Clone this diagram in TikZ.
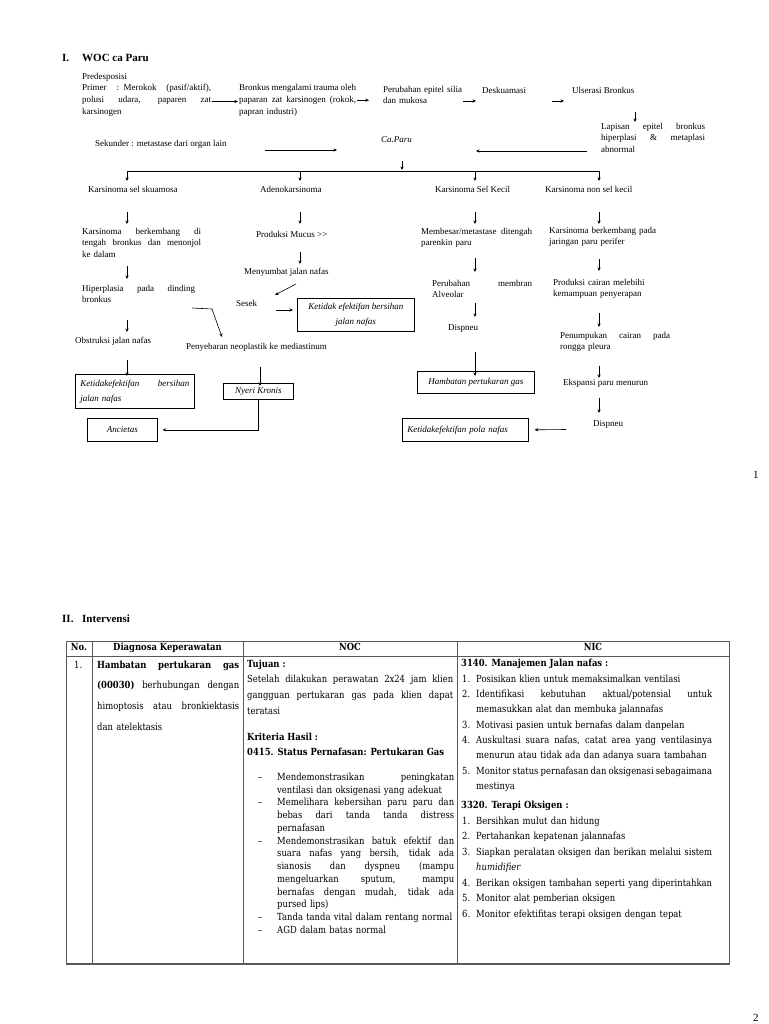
\documentclass[tikz,border=0pt]{standalone}
\usepackage{fontspec}
\setmainfont{Liberation Serif}
\newfontfamily\tabfont[FakeStretch=0.86]{DejaVu Serif}
\usetikzlibrary{arrows.meta}
\newcommand\jl[1]{\hbox to \hsize{\spaceskip=0.3em plus 3em minus 0.12em #1}\par}
\newcommand\nl[1]{\hbox to \hsize{#1\hfil}\par}
\begin{document}
\begin{tikzpicture}[x=1pt,y=-1pt,
  ft/.style={font=\fontsize{9}{11.7}\selectfont, inner sep=0pt, anchor=mid west},
  ftw/.style={ft, text width=#1},
  hd/.style={font=\fontsize{11}{13}\selectfont\bfseries, inner sep=0pt, anchor=mid west},
  fbox/.style={draw, line width=0.6pt, inner sep=0pt, anchor=north west,
     font=\fontsize{9}{15}\selectfont\itshape, align=center},
  arr/.style={-{Stealth[length=3.6pt,width=3.2pt]}, line width=0.6pt},
  ln/.style={line width=0.6pt},
  tf/.style={font=\tabfont\fontsize{9.8}{15.3}\selectfont, inner sep=0pt, anchor=mid west},
  tl/.style={line width=0.9pt, draw=black!65},
]
\useasboundingbox (0,0) rectangle (768,1024);

% ---------------- Section I ----------------
\node[hd] (t1n) at (62,59) {I.};
\node[hd] (t1) at (82,59) {WOC ca Paru};

\node[ftw=129] (pre) at (82,77) {\nl{Predesposisi}\jl{Primer : Merokok (pasif/aktif),}\jl{polusi udara, paparen zat}\nl{karsinogen}};
\node[ftw=117] (bro) at (239,88.5) {\jl{Bronkus mengalami trauma oleh}\jl{paparan zat karsinogen (rokok,}\nl{papran industri)}};
\node[ftw=82] (per) at (383,90) {\nl{Perubahan epitel silia}\nl{dan mukosa}};
\node[ft] (desk) at (482,91) {Deskuamasi};
\node[ft] (ulc) at (572,91) {Ulserasi Bronkus};
\node[ftw=104] (lap) at (601,127) {\jl{Lapisan epitel bronkus}\jl{hiperplasi \& metaplasi}\nl{abnormal}};
\node[ft, font=\fontsize{9}{11.7}\selectfont\itshape] (ca) at (381,140) {Ca.Paru};
\node[ft] (sek) at (95,144) {Sekunder : metastase dari organ lain};

\coordinate (a1s) at (212,101.5); \coordinate (a1e) at (238,101.5);
\draw[arr] (a1s) -- (a1e);
\coordinate (a2s) at (357,100.2); \coordinate (a2e) at (369,100.2);
\draw[arr] (a2s) -- (a2e);
\coordinate (a3s) at (463,101); \coordinate (a3e) at (476,101);
\draw[arr] (a3s) -- (a3e);
\coordinate (a4s) at (552,101); \coordinate (a4e) at (564,101);
\draw[arr] (a4s) -- (a4e);
\coordinate (a5s) at (635,112); \coordinate (a5e) at (635,122);
\draw[arr] (a5s) -- (a5e);
\coordinate (a6s) at (587,151); \coordinate (a6e) at (476,151);
\draw[arr] (a6s) -- (a6e);
\coordinate (a7s) at (265,150); \coordinate (a7e) at (337,150);
\draw[arr] (a7s) -- (a7e);
\coordinate (a8s) at (402,161); \coordinate (a8e) at (402,170);
\draw[arr] (a8s) -- (a8e);

% branch line
\coordinate (bl) at (127,171); \coordinate (br) at (599,171);
\draw[ln] (bl) -- (br);
\foreach \x/\n in {127/q1,300/q2,475/q3,599/q4}{
  \coordinate (\n s) at (\x,171); \coordinate (\n e) at (\x,181);
  \draw[arr] (\n s) -- (\n e);
}

\node[ft] (sq) at (88,190) {Karsinoma sel skuamosa};
\node[ft] (ad) at (260,190) {Adenokarsinoma};
\node[ft] (kk) at (435,190) {Karsinoma Sel Kecil};
\node[ft] (nk) at (545,190) {Karsinoma non sel kecil};

\foreach \x/\n in {127/r1,300/r2,475/r3,599/r4}{
  \coordinate (\n s) at (\x,212); \coordinate (\n e) at (\x,224);
  \draw[arr] (\n s) -- (\n e);
}

% row C
\node[ftw=119] (c1a) at (82,232) {\jl{Karsinoma berkembang di}\jl{tengah bronkus dan menonjol}\nl{ke dalam}};
\node[ft] (c2a) at (256,235) {Produksi Mucus {>}{>}};
\node[ftw=111] (c3a) at (421,232) {\jl{Membesar/metastase ditengah}\nl{parenkin paru}};
\node[ftw=118] (c4a) at (549,231) {\nl{Karsinoma berkembang pada}\nl{jaringan paru perifer}};

\coordinate (s1s) at (127,266); \coordinate (s1e) at (127,279); \draw[arr] (s1s) -- (s1e);
\coordinate (s2s) at (300,252); \coordinate (s2e) at (300,264); \draw[arr] (s2s) -- (s2e);
\coordinate (s3s) at (475,258); \coordinate (s3e) at (475,272); \draw[arr] (s3s) -- (s3e);
\coordinate (s4s) at (599,259); \coordinate (s4e) at (599,271); \draw[arr] (s4s) -- (s4e);

% row D
\node[ftw=113] (c1b) at (82,289) {\jl{Hiperplasia pada dinding}\nl{bronkus}};
\node[ft] (c2b) at (244,272) {Menyumbat jalan nafas};
\node[ftw=100] (c3b) at (432,284) {\jl{Perubahan membran}\nl{Alveolar}};
\node[ftw=120] (c4b) at (553,283) {\nl{Produksi cairan melebihi}\nl{kemampuan penyerapan}};
\node[ft] (ses) at (236,304) {Sesek};
\node[fbox, minimum width=117, minimum height=33] (kb1) at (297,298) {Ketidak efektifan bersihan\\jalan nafas};

\coordinate (dgs) at (296,284); \coordinate (dge) at (275,295); \draw[arr] (dgs) -- (dge);
\coordinate (sss) at (276,310); \draw[arr] (sss) -- ([xshift=-4pt]kb1.west |- sss);
\coordinate (h1) at (192,308); \coordinate (h2) at (212,309); \coordinate (h3) at (222,337);
\draw[arr] (h1) -- (h2) -- (h3);

\coordinate (u1s) at (127,320); \coordinate (u1e) at (127,332); \draw[arr] (u1s) -- (u1e);
\coordinate (u3s) at (475,303); \coordinate (u3e) at (475,317); \draw[arr] (u3s) -- (u3e);
\coordinate (u4s) at (599,313); \coordinate (u4e) at (599,327); \draw[arr] (u4s) -- (u4e);

% row E
\node[ft] (c1c) at (75,341) {Obstruksi jalan nafas};
\node[ft] (c2c) at (186,347) {Penyebaran neoplastik ke mediastinum};
\node[ft] (c3c) at (448,328) {Dispneu};
\node[ftw=110] (c4c) at (560,336) {\jl{Penumpukan cairan pada}\nl{rongga pleura}};

% row F boxes
\node[fbox, minimum width=119, minimum height=34, text width=109, inner xsep=5pt, align=left] (b1) at (75,374) {\jl{Ketidakefektifan bersihan}\nl{jalan nafas}};
\node[fbox, minimum width=70, minimum height=16] (ny) at (223,383) {Nyeri Kronis};
\node[fbox, minimum width=117, minimum height=22] (hb) at (417,371) {Hambatan pertukaran gas};
\node[ft] (c4d) at (563,383) {Ekspansi paru menurun};

\coordinate (v1s) at (127,360); \draw[arr] (v1s) -- ([yshift=-2pt]b1.north -| v1s);
\coordinate (v2s) at (260,367); \draw[arr] (v2s) -- ([yshift=-3pt]ny.north -| v2s);
\coordinate (v3s) at (475,352); \draw[arr] (v3s) -- ([yshift=-5pt]hb.north -| v3s);
\coordinate (v4s) at (599,366); \coordinate (v4e) at (599,378); \draw[arr] (v4s) -- (v4e);

% row G
\node[fbox, minimum width=70, minimum height=23] (an) at (87,418) {Ancietas};
\node[fbox, minimum width=126, minimum height=23, text width=116, inner xsep=5pt, align=left] (pl) at (402,418) {Ketidakefektifan pola nafas};
\node[ft] (c4e) at (593,424) {Dispneu};
\draw[arr] (ny.south) |- ([xshift=5pt]an.east);
\coordinate (w4s) at (599,398); \coordinate (w4e) at (599,413); \draw[arr] (w4s) -- (w4e);
\coordinate (dps) at (566,429.5); \draw[arr] (dps) -- ([xshift=6pt]pl.east);

\node[ft, font=\fontsize{11}{13}\selectfont] (p1) at (753,476) {1};

% ---------------- Section II ----------------
\node[hd] (t2n) at (62,620) {II.};
\node[hd] (t2) at (82,620) {Intervensi};

\coordinate (tlt) at (66,641); \coordinate (trb) at (729,964);
\draw[tl] (tlt) rectangle (trb);
\draw[tl, line width=1.6pt] (66,964) -- (729,964);
\draw[tl] (66,656) -- (729,656);
\draw[tl] (92,641) -- (92,964);
\draw[tl] (243,641) -- (243,964);
\draw[tl] (457,641) -- (457,964);

\node[tf, anchor=mid] (hno) at (79,648) {\bfseries No.};
\node[tf, anchor=mid] (hdg) at (167.5,648) {\bfseries Diagnosa Keperawatan};
\node[tf, anchor=mid] (hnoc) at (350,648) {\bfseries NOC};
\node[tf, anchor=mid] (hnic) at (593,648) {\bfseries NIC};

\node[tf] (n1) at (74,666) {1.};
\node[tf, text width=142, font=\tabfont\fontsize{9.8}{20.6}\selectfont] (diag) at (97,666)
 {\jl{\bfseries Hambatan pertukaran gas}\jl{\textbf{(00030)} berhubungan dengan}\jl{himoptosis atau bronkiektasis}\nl{dan atelektasis}};

% NOC
\node[tf] (tuj) at (247,665) {\bfseries Tujuan :};
\node[tf, text width=206, font=\tabfont\fontsize{9.8}{16}\selectfont] (set) at (247,680)
 {\jl{Setelah dilakukan perawatan 2x24 jam klien}\jl{gangguan pertukaran gas pada klien dapat}\nl{teratasi}};
\node[tf] (kh) at (247,738) {\bfseries Kriteria Hasil :};
\node[tf] (st) at (247,753) {\bfseries 0415. Status Pernafasan: Pertukaran Gas};
\node[tf, text width=177, font=\tabfont\fontsize{9.8}{12.75}\selectfont] (kr) at (277,778)
 {\jl{Mendemonstrasikan peningkatan}\nl{ventilasi dan oksigenasi yang adekuat}\jl{Memelihara kebersihan paru paru dan}\jl{bebas dari tanda tanda distress}\nl{pernafasan}\jl{Mendemonstrasikan batuk efektif dan}\jl{suara nafas yang bersih, tidak ada}\jl{sianosis dan dyspneu (mampu}\jl{mengeluarkan sputum, mampu}\jl{bernafas dengan mudah, tidak ada}\nl{pursed lips)}\nl{Tanda tanda vital dalam rentang normal}\nl{AGD dalam batas normal}};
\node[tf, text width=12, font=\tabfont\fontsize{9.8}{12.75}\selectfont] (krd) at (258,778)
 {\nl{–}\nl{}\nl{–}\nl{}\nl{}\nl{–}\nl{}\nl{}\nl{}\nl{}\nl{}\nl{–}\nl{–}};

% NIC
\node[tf] (m1) at (461,664) {\bfseries 3140. Manajemen Jalan nafas :};
\node[tf, text width=236] (nic1) at (476,680)
 {\nl{Posisikan klien untuk memaksimalkan ventilasi}\jl{Identifikasi kebutuhan aktual/potensial untuk}\nl{memasukkan alat dan membuka jalannafas}\nl{Motivasi pasien untuk bernafas dalam danpelan}\jl{Auskultasi suara nafas, catat area yang ventilasinya}\nl{menurun atau tidak ada dan adanya suara tambahan}\jl{Monitor status pernafasan dan oksigenasi sebagaimana}\nl{mestinya}};
\node[tf, text width=12] (nic1n) at (462,680)
 {\nl{1.}\nl{2.}\nl{}\nl{3.}\nl{4.}\nl{}\nl{5.}};
\node[tf] (m2) at (461,806) {\bfseries 3320. Terapi Oksigen :};
\node[tf, text width=236, font=\tabfont\fontsize{9.8}{15.5}\selectfont] (nic2) at (476,822)
 {\nl{Bersihkan mulut dan hidung}\nl{Pertahankan kepatenan jalannafas}\jl{Siapkan peralatan oksigen dan berikan melalui sistem}\nl{\itshape humidifier}\nl{Berikan oksigen tambahan seperti yang diperintahkan}\nl{Monitor alat pemberian oksigen}\nl{Monitor efektifitas terapi oksigen dengan tepat}};
\node[tf, text width=12, font=\tabfont\fontsize{9.8}{15.5}\selectfont] (nic2n) at (462,822)
 {\nl{1.}\nl{2.}\nl{3.}\nl{}\nl{4.}\nl{5.}\nl{6.}};

\node[ft, font=\fontsize{11}{13}\selectfont] (p2) at (753,1019) {2};
\end{tikzpicture}
\end{document}
